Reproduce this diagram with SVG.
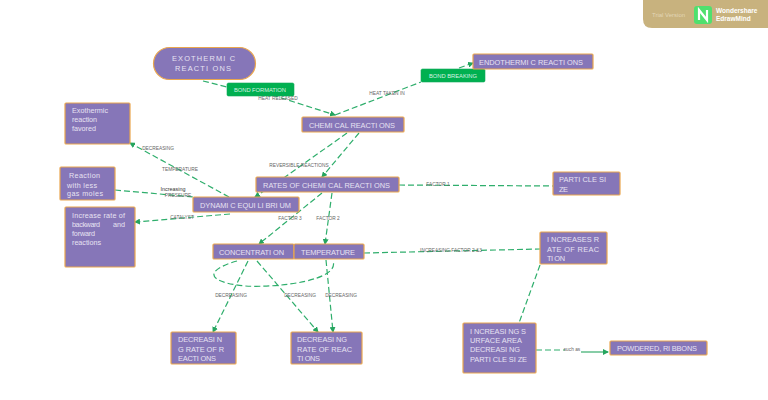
<svg xmlns="http://www.w3.org/2000/svg" width="768" height="400" viewBox="0 0 768 400">
<defs>
<marker id="ah" markerWidth="6" markerHeight="6" refX="5" refY="3" orient="auto" markerUnits="userSpaceOnUse"><path d="M0,0 L6,3 L0,6 Z" fill="#25a55f"/></marker>
</defs>
<style>
text{font-family:"Liberation Sans",Arial,sans-serif}
.n{fill:#8676b8;stroke:#eaa64e;stroke-width:1.2}
.t{fill:#e6e2f2;font-size:7.4px}
.s{fill:#e6e2f2;font-size:7.2px}
.g{fill:#00b050;stroke:#12a85a;stroke-width:.6}
.gt{fill:#d5f2e0;font-size:5.8px}
.c{fill:none;stroke:#2fae6c;stroke-width:1.2;stroke-dasharray:6 3}
.l{fill:#666;font-size:4.8px;text-anchor:middle}
</style>
<rect width="768" height="400" fill="#fff"/>
<g id="connectors">
<path class="c" d="M203,81 L227,87"/>
<path class="c" marker-end="url(#ah)" d="M272,95 L335,115"/>
<path class="c" d="M335,115 L421,82"/>
<path class="c" marker-end="url(#ah)" d="M459,68 L473,63"/>
<path class="c" marker-end="url(#ah)" d="M347,133 L285,177 L255,197"/>
<path class="c" marker-end="url(#ah)" d="M359,133 L322,177"/>
<path class="c" marker-end="url(#ah)" d="M229,197 L130,143"/>
<path class="c" d="M115,190 L193,197"/>
<path class="c" marker-end="url(#ah)" d="M230,214 L135,222"/>
<path class="c" d="M399,185 L553,186"/>
<path class="c" marker-end="url(#ah)" d="M322,193 L259,244"/>
<path class="c" marker-end="url(#ah)" d="M332,193 L325,244"/>
<path class="c" d="M364,253 L540,249"/>
<path class="c" d="M237,261 C205,270 205,282 245,286 C280,288 340,280 333,261"/>
<path class="c" marker-end="url(#ah)" d="M248,261 L213,332"/>
<path class="c" marker-end="url(#ah)" d="M257,261 L318,332"/>
<path class="c" marker-end="url(#ah)" d="M326,260 L333,332"/>
<path class="c" d="M540,265 L519,323"/>
<path class="c" d="M536,350 L565,350"/>
<path d="M581,352 L608,352" fill="none" stroke="#25a55f" stroke-width="1.1" marker-end="url(#ah)"/>
</g>
<g id="labels">
<text class="l" x="278" y="100">HEAT RELEASED</text>
<text class="l" x="387" y="95">HEAT TAKEN IN</text>
<text class="l" x="158" y="150">DECREASING</text>
<text class="l" x="180" y="171">TEMPERATURE</text>
<text x="173" y="191" style="fill:#333;font-size:5.4px;text-anchor:middle">Increasing</text>
<text class="l" x="178" y="197">PRESSURE</text>
<text class="l" x="182" y="219">CATALYST</text>
<text class="l" x="299" y="167">REVERSIBLE REACTIONS</text>
<text class="l" x="290" y="220">FACTOR 3</text>
<text class="l" x="328" y="220">FACTOR 2</text>
<text class="l" x="438" y="186">FACTOR 1</text>
<text class="l" x="451" y="252">INCREASING FACTOR 2 &amp;3</text>
<text class="l" x="231" y="297">DECREASING</text>
<text class="l" x="300" y="297">DECREASING</text>
<text class="l" x="341" y="297">DECREASING</text>
<text class="l" x="572" y="351">such as</text>
</g>
<g id="exothermic"><rect class="n" x="153.500" y="47.500" width="102" height="32" rx="16" stroke-width="1.5"/><text class="t" x="172" y="61" textLength="63">EXOTHERMI C</text><text class="t" x="175" y="71" textLength="56">REACTI ONS</text></g>
<g id="bond-formation"><rect class="g" x="227" y="83" width="67" height="13" rx="1.500"/><text class="gt" x="234" y="92" textLength="52">BOND FORMATION</text></g>
<g id="bond-breaking"><rect class="g" x="421" y="69" width="64" height="13" rx="1.500"/><text class="gt" x="429" y="78" textLength="48">BOND BREAKING</text></g>
<g id="endothermic"><rect class="n" x="473" y="54" width="120" height="15" rx="1"/><text class="t" x="479" y="65" textLength="104">ENDOTHERMI C REACTI ONS</text></g>
<g id="chemical"><rect class="n" x="302" y="117" width="102" height="15" rx="1"/><text class="t" x="309" y="127.500" textLength="86">CHEMI CAL REACTI ONS</text></g>
<g id="favored"><rect class="n" x="65" y="103" width="65" height="41" rx="1"/><text class="s" x="72" y="113" textLength="36">Exothermic</text><text class="s" x="72" y="122" textLength="25">reaction</text><text class="s" x="72" y="131" textLength="24">favored</text></g>
<g id="less-gas"><rect class="n" x="60" y="167" width="55" height="33" rx="1"/><text class="s" x="69" y="178" textLength="31">Reaction</text><text class="s" x="67" y="188" textLength="30">with less</text><text class="s" x="67" y="196" textLength="36">gas moles</text></g>
<g id="increase-rate"><rect class="n" x="65" y="207" width="70" height="60" rx="1"/><text class="s" x="72" y="218" textLength="53">Increase rate of</text><text class="s" x="72" y="226.500" textLength="28">backward</text><text class="s" x="113" y="226.500" textLength="12">and</text><text class="s" x="72" y="236" textLength="23">forward</text><text class="s" x="72" y="245" textLength="29">reactions</text></g>
<g id="rates"><rect class="n" x="256" y="177" width="143" height="15" rx="1"/><text class="t" x="263" y="187.500" textLength="127">RATES OF CHEMI CAL REACTI ONS</text></g>
<g id="dynamic"><rect class="n" x="193" y="197" width="106" height="15" rx="1"/><text class="t" x="200" y="208" textLength="91">DYNAMI C EQUI LI BRI UM</text></g>
<g id="particle"><rect class="n" x="553" y="172" width="67" height="23" rx="1"/><text class="t" x="559" y="182" textLength="47">PARTI CLE SI</text><text class="t" x="559" y="192" textLength="9">ZE</text></g>
<g id="concentration"><rect class="n" x="213" y="244" width="81" height="15" rx="1"/><text class="t" x="219" y="254.500" textLength="65">CONCENTRATI ON</text></g>
<g id="temperature"><rect class="n" x="294" y="244" width="70" height="15" rx="1"/><text class="t" x="301" y="254.500" textLength="54">TEMPERATURE</text></g>
<g id="increases"><rect class="n" x="540" y="232" width="67" height="32" rx="1"/><text class="t" x="547" y="242" textLength="52">I NCREASES R</text><text class="t" x="547" y="251.500" textLength="52">ATE OF REAC</text><text class="t" x="547" y="261" textLength="18">TI ON</text></g>
<g id="decreasing-g"><rect class="n" x="171" y="332" width="65" height="32" rx="1"/><text class="t" x="178" y="342" textLength="44">DECREASI N</text><text class="t" x="178" y="352" textLength="46">G RATE OF R</text><text class="t" x="178" y="361" textLength="38">EACTI ONS</text></g>
<g id="decreasing-rate"><rect class="n" x="291" y="332" width="71" height="32" rx="1"/><text class="t" x="297" y="342" textLength="50">DECREASI NG</text><text class="t" x="297" y="352" textLength="55">RATE OF REAC</text><text class="t" x="297" y="361" textLength="23">TI ONS</text></g>
<g id="surface"><rect class="n" x="463" y="323" width="73" height="50" rx="1"/><text class="t" x="470" y="334" textLength="56">I NCREASI NG S</text><text class="t" x="470" y="343" textLength="52">URFACE AREA</text><text class="t" x="470" y="352" textLength="50">DECREASI NG</text><text class="t" x="470" y="361.500" textLength="57">PARTI CLE SI ZE</text></g>
<g id="powdered"><rect class="n" x="610" y="341" width="97" height="14" rx="1"/><text class="t" x="617" y="351" textLength="80">POWDERED, RI BBONS</text></g>
<g id="badge"><path d="M643,0 H768 V28 H652 Q643,28 643,19 Z" fill="#c8b27e"/><text x="652" y="16.500" style="fill:#e2d6b6;font-size:6px">Trial Version</text><rect x="694" y="6" width="18" height="18" rx="3" fill="#4fe06e"/><path d="M699,20 V10 L707,20 V10" fill="none" stroke="#fff" stroke-width="2.200"/><text x="716" y="13" style="fill:#fff;font-size:6.500px;font-weight:bold">Wondershare</text><text x="716" y="21" style="fill:#fff;font-size:6.500px;font-weight:bold">EdrawMind</text></g>
</svg>
